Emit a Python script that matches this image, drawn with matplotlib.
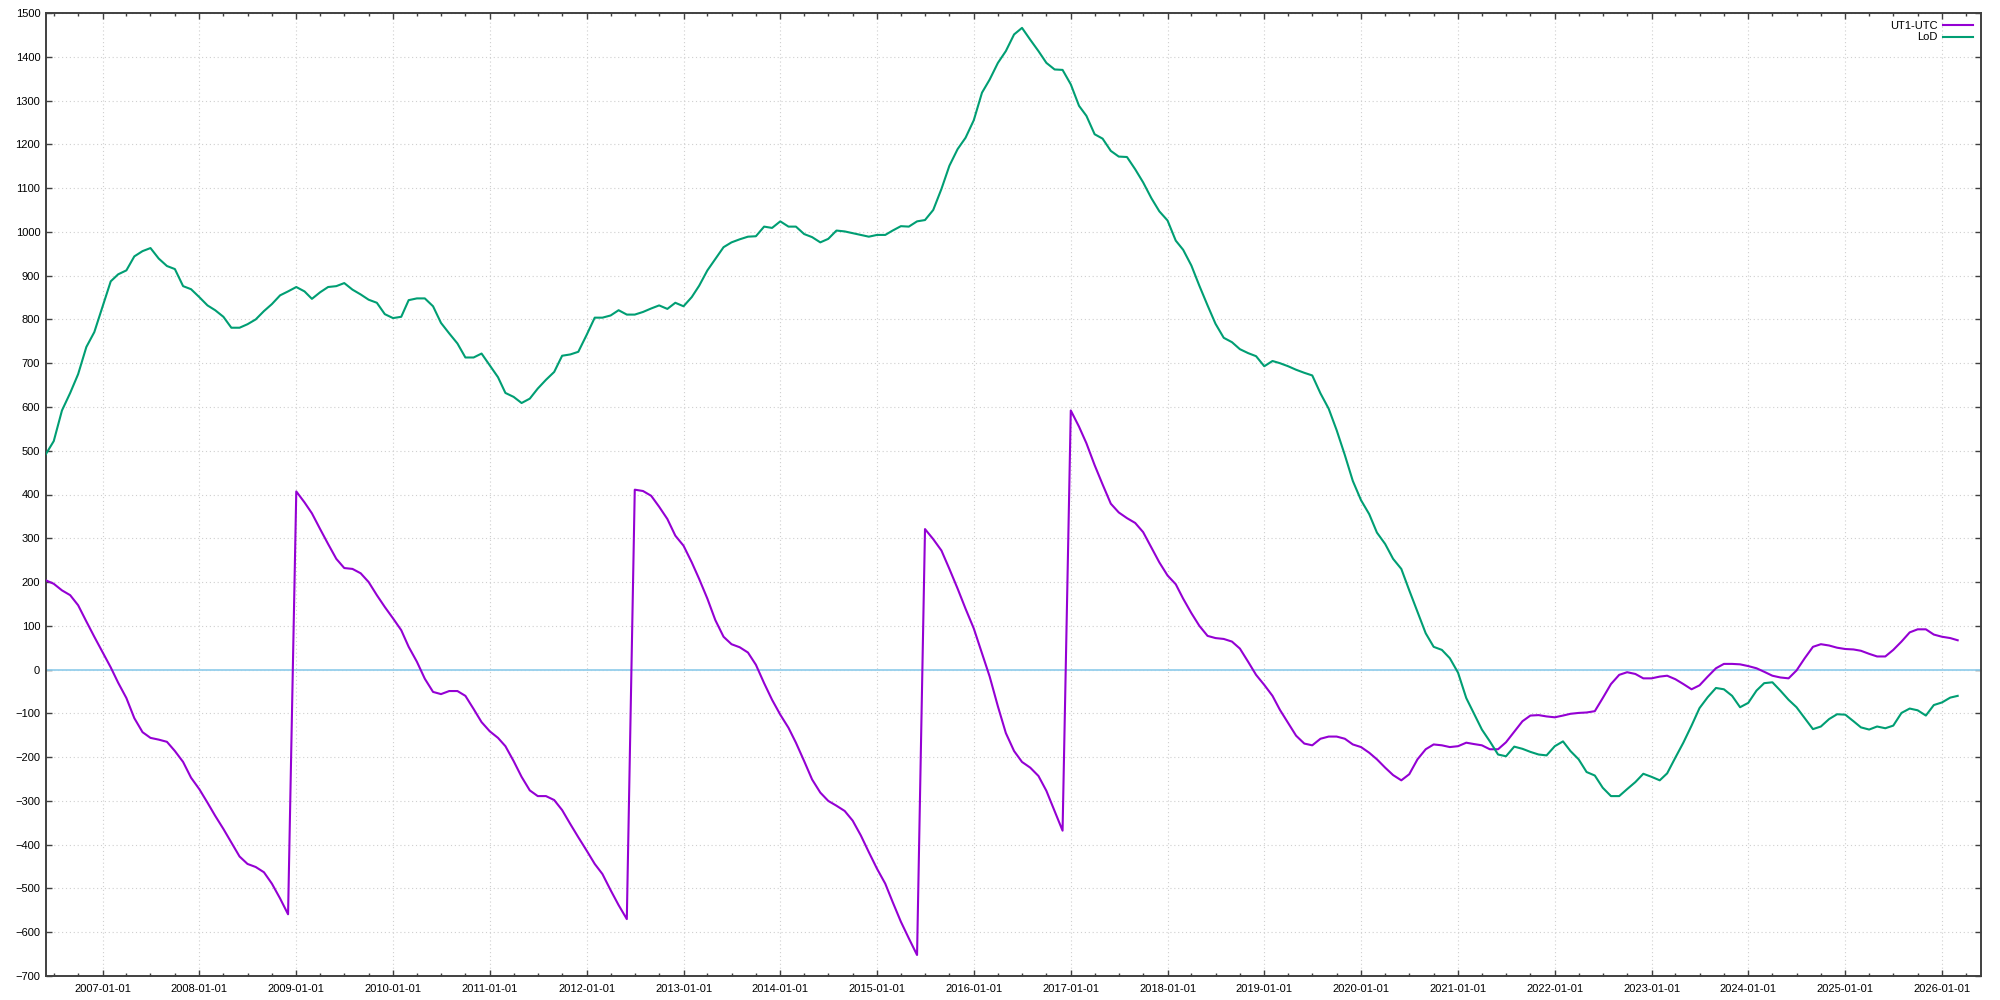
import matplotlib
matplotlib.use("Agg")
import matplotlib.pyplot as plt
import matplotlib.dates as mdates
import pandas as pd
import numpy as np

# Monthly samples, first day of each month, 2006-06 .. 2026-03
start_month = "2006-06-01"

ut1_utc = [
    204, 196, 181, 170, 147, 110, 75,                                   # 2006 Jun-Dec
    40, 5, -30, -65, -111, -143, -156, -160, -165, -186, -211, -247,    # 2007
    -273, -304, -334, -364, -395, -427, -444, -451, -463, -489, -523, -559,  # 2008
    407, 382, 357, 321, 287, 253, 232, 230, 220, 200, 170, 143,         # 2009
    117, 90, 52, 18, -21, -51, -56, -49, -49, -60, -90, -120,           # 2010
    -141, -156, -175, -209, -245, -276, -289, -289, -298, -321, -353, -383,  # 2011
    -413, -444, -467, -504, -538, -570, 411, 408, 397, 372, 344, 306,   # 2012
    283, 245, 207, 162, 113, 75, 58, 51, 39, 11, -31, -69,              # 2013
    -103, -133, -167, -209, -251, -281, -300, -311, -323, -345, -379, -417,  # 2014
    -455, -489, -531, -576, -614, -652, 321, 298, 272, 230, 185, 139,   # 2015
    94, 37, -16, -84, -145, -186, -211, -224, -243, -277, -323, -368,   # 2016
    592, 555, 517, 467, 423, 379, 359, 346, 335, 314, 279, 245,         # 2017
    215, 195, 162, 129, 100, 77, 72, 70, 64, 48, 18, -12,               # 2018
    -35, -60, -92, -122, -151, -169, -173, -158, -153, -153, -158, -171,  # 2019
    -177, -190, -205, -224, -241, -253, -239, -205, -182, -171, -173, -177,  # 2020
    -175, -167, -170, -173, -182, -182, -166, -142, -118, -105, -104, -107,  # 2021
    -109, -105, -101, -99, -98, -95, -65, -33, -12, -6, -10, -20,       # 2022
    -20, -16, -14, -22, -33, -45, -36, -16, 3, 13, 13, 12,              # 2023
    8, 3, -5, -14, -18, -20, -2, 26, 52, 58, 55, 50,                    # 2024
    47, 46, 43, 36, 30, 30, 45, 64, 85, 92, 92, 80,                     # 2025
    75, 72, 67,                                                         # 2026
]

lod = [
    492, 522, 592, 632, 675, 737, 771,                                  # 2006 Jun-Dec
    829, 887, 903, 912, 944, 956, 963, 939, 922, 915, 876, 869,         # 2007
    851, 832, 821, 806, 781, 781, 789, 800, 819, 835, 855, 864,         # 2008
    874, 864, 847, 862, 874, 876, 883, 868, 857, 845, 838, 812,         # 2009
    803, 806, 844, 848, 848, 830, 792, 768, 745, 713, 713, 722,         # 2010
    695, 668, 632, 623, 609, 619, 642, 662, 680, 717, 720, 726,         # 2011
    764, 804, 804, 809, 821, 811, 811, 817, 825, 832, 824, 838,         # 2012
    830, 851, 877, 912, 938, 965, 976, 983, 989, 990, 1012, 1009,       # 2013
    1024, 1012, 1012, 995, 988, 976, 984, 1003, 1001, 997, 993, 989,    # 2014
    993, 993, 1003, 1013, 1012, 1024, 1027, 1050, 1098, 1151, 1189, 1215,  # 2015
    1255, 1318, 1348, 1386, 1413, 1451, 1466, 1439, 1413, 1386, 1371, 1370,  # 2016
    1337, 1288, 1265, 1223, 1213, 1185, 1172, 1171, 1143, 1113, 1077, 1047,  # 2017
    1026, 980, 959, 923, 877, 832, 790, 758, 748, 732, 723, 716,        # 2018
    693, 705, 700, 693, 685, 678, 672, 631, 596, 547, 490, 431,         # 2019
    387, 355, 313, 287, 253, 230, 181, 132, 83, 52, 45, 26,             # 2020
    -7, -65, -99, -137, -164, -194, -198, -176, -181, -188, -194, -196, # 2021
    -175, -164, -186, -205, -234, -242, -270, -289, -289, -273, -257, -238,  # 2022
    -245, -253, -237, -201, -167, -128, -88, -63, -42, -45, -60, -86,   # 2023
    -76, -48, -31, -29, -48, -69, -86, -111, -136, -130, -113, -102,    # 2024
    -103, -118, -132, -137, -130, -134, -128, -99, -89, -93, -105, -81, # 2025
    -75, -64, -60,                                                      # 2026
]

series_labels = ["UT1-UTC", "LoD"]
series_colors = ["#9400d3", "#009e73"]

dates = pd.date_range(start_month, periods=len(ut1_utc), freq="MS")

plt.rcParams["font.family"] = ["Liberation Sans", "DejaVu Sans"]
plt.rcParams["font.size"] = 8

fig = plt.figure(figsize=(20, 10), dpi=100)
ax = fig.add_axes([0.0229, 0.024, 0.9676, 0.963])

ax.axhline(0, color="#95cfec", lw=1.3, zorder=2)
l1, = ax.plot(dates, ut1_utc, color=series_colors[0], lw=1.5, zorder=3, label=series_labels[0])
l2, = ax.plot(dates, lod, color=series_colors[1], lw=1.5, zorder=3, label=series_labels[1])

ax.set_xlim(pd.Timestamp("2006-06-01"), pd.Timestamp("2026-05-28"))
ax.set_ylim(-700, 1500)

ax.xaxis.set_major_locator(mdates.YearLocator())
ax.xaxis.set_major_formatter(mdates.DateFormatter("%Y-%m-%d"))
ax.xaxis.set_minor_locator(mdates.MonthLocator(bymonth=[4, 7, 10]))
ax.yaxis.set_major_locator(matplotlib.ticker.MultipleLocator(100))

ax.tick_params(which="both", direction="in", top=True, right=True,
               color="#404040", width=1.0)
ax.tick_params(which="major", length=4)
ax.tick_params(which="minor", length=2.5)
ax.tick_params(axis="x", which="major", pad=6, labelsize=8)
ax.tick_params(axis="y", which="major", pad=4, labelsize=8)

for sp in ax.spines.values():
    sp.set_color("#404040")
    sp.set_linewidth(1.4)

ax.grid(True, which="major", color="#cfcfcf", lw=0.8, linestyle=(0, (1, 2.5)), zorder=1)
ax.set_axisbelow(True)

ax.legend(handles=[l1, l2], loc="upper right", frameon=False, markerfirst=False,
          fontsize=8, handlelength=2.7, handletextpad=0.5, labelspacing=0.15,
          borderaxespad=0.4, borderpad=0.3)

fig.savefig("out.png", dpi=100, facecolor="white")
